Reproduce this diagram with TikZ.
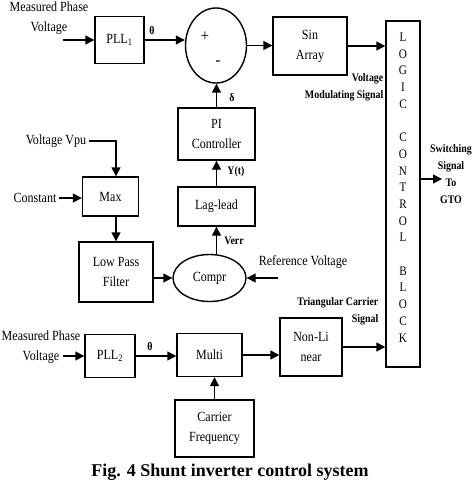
\documentclass[tikz,border=0pt]{standalone}
\usepackage{fontspec}
\setmainfont[FakeStretch=0.86]{Liberation Serif}
\newfontfamily\capfont{Liberation Serif}
\usetikzlibrary{arrows.meta,shapes.geometric}

\begin{document}
\begin{tikzpicture}
  [x=1pt,y=-1pt,line width=1.4pt,>={Triangle[length=9pt,width=9pt]},
   blk/.style={draw,rectangle,inner sep=0pt,align=center,font=\fontsize{14}{20}\selectfont},
   oval/.style={draw,ellipse,inner sep=0pt,font=\fontsize{14}{20}\selectfont},
   lbl/.style={inner sep=2pt,align=center,font=\fontsize{14}{20}\selectfont},
   sig/.style={inner sep=0pt,font=\bfseries\fontsize{11.5}{17}\selectfont}]
  \useasboundingbox (0,0) rectangle (474,484);

  \node[lbl] (mpv1) at (49,18) {Measured Phase\\Voltage};
  \coordinate (in1) at (63,40);
  \node[blk,minimum width=49pt,minimum height=47pt] (pll1) at (119.5,40) {PLL\textsubscript{1}};
  \node[sig] (theta1) at (152,31) {θ};
  \node[oval,minimum width=61pt,minimum height=75pt] (sum) at (216,45.5) {};
  \node[lbl,inner sep=0pt,font=\fontsize{17}{20}\selectfont] (plus) at (205,37) {+};
  \node[lbl,inner sep=0pt,font=\fontsize{17}{20}\selectfont] (minus) at (218,63) {-};
  \node[blk,minimum width=74pt,minimum height=58pt] (sin) at (310,46) {Sin\\Array};
  \node[sig,align=right,anchor=east] (vms) at (384,87) {Voltage\\Modulating Signal};
  \node[draw,minimum width=34pt,minimum height=346pt,inner sep=0pt] (logic) at (403,194) {};
  \node[inner sep=0pt,align=center,font=\fontsize{13}{16.7}\selectfont] (logictxt) at (403,187.5)
    {L\\O\\G\\I\\C\\\mbox{}\\C\\O\\N\\T\\R\\O\\L\\\mbox{}\\B\\L\\O\\C\\K};
  \node[sig,align=center] (gto) at (451,174.5) {Switching\\Signal\\To\\GTO};
  \coordinate (gtoin) at (442,179);

  \node[blk,minimum width=77pt,minimum height=52pt] (pi) at (216.5,134) {PI\\Controller};
  \node[sig] (yt) at (236,172) {Y(t)};
  \node[sig] (delta) at (232,98) {δ};
  \node[blk,minimum width=77pt,minimum height=39pt] (laglead) at (216.5,206.5) {Lag-lead};
  \node[sig] (verr) at (234,241) {Verr};
  \node[oval,minimum width=73pt,minimum height=47pt] (compr) at (209.5,278) {Compr};
  \node[lbl] (refv) at (303,262) {Reference Voltage};
  \coordinate (refin) at (278,278);

  \node[lbl] (vpu) at (56,141) {Voltage Vpu};
  \node[lbl] (const) at (35,198) {Constant};
  \node[blk,minimum width=56pt,minimum height=39pt] (max) at (110.5,196.5) {Max};
  \node[blk,minimum width=74pt,minimum height=60pt] (lpf) at (116,272) {Low Pass\\Filter};

  \node[lbl] (mpv2) at (41,347) {Measured Phase\\Voltage};
  \coordinate (in2) at (63,356);
  \node[blk,minimum width=50pt,minimum height=43pt] (pll2) at (110,356) {PLL\textsubscript{2}};
  \node[sig] (theta2) at (150,347) {θ};
  \node[blk,minimum width=65pt,minimum height=43pt] (multi) at (209.5,355) {Multi};
  \node[blk,minimum width=79pt,minimum height=57pt] (carrier) at (214.5,428.5) {Carrier\\Frequency};
  \node[blk,minimum width=62pt,minimum height=58pt] (nonlin) at (311,347) {Non-Li\\near};
  \node[sig,align=right,anchor=east] (tcs) at (379,311.5) {Triangular Carrier\\Signal};

  \node[font=\capfont\bfseries\fontsize{18}{20}\selectfont] (caption) at (230,472) {Fig. 4 Shunt inverter control system};

  \draw[->] (in1) -- (in1 -| pll1.west);
  \draw[->] (pll1.east) -- (pll1.east -| sum.west);
  \draw[->] (sum.east) -- (sum.east -| sin.west);
  \draw[->] (sin.east) -- (sin.east -| logic.west);
  \draw[->] (logic.east |- gtoin) -- (gtoin);
  \draw[->] (pi.north) -- (pi.north |- sum.south);
  \draw[->] (laglead.north) -- (pi.south);
  \draw[->] (compr.north -| laglead.south) -- (laglead.south);
  \draw[->] (refin) -- (compr.east);
  \draw[->] (vpu.east) -| (lpf.north |- max.north);
  \draw[->] (const.east) -- (const.east -| max.west);
  \draw[->] (max.south -| lpf.north) -- (lpf.north);
  \draw[->] (lpf.east |- compr.west) -- (compr.west);
  \draw[->] (in2) -- (in2 -| pll2.west);
  \draw[->] (pll2.east) -- (pll2.east -| multi.west);
  \draw[->] (carrier.north) -- (carrier.north |- multi.south);
  \draw[->] (multi.east) -- (multi.east -| nonlin.west);
  \draw[->] (nonlin.east) -- (nonlin.east -| logic.west);
\end{tikzpicture}
\end{document}
